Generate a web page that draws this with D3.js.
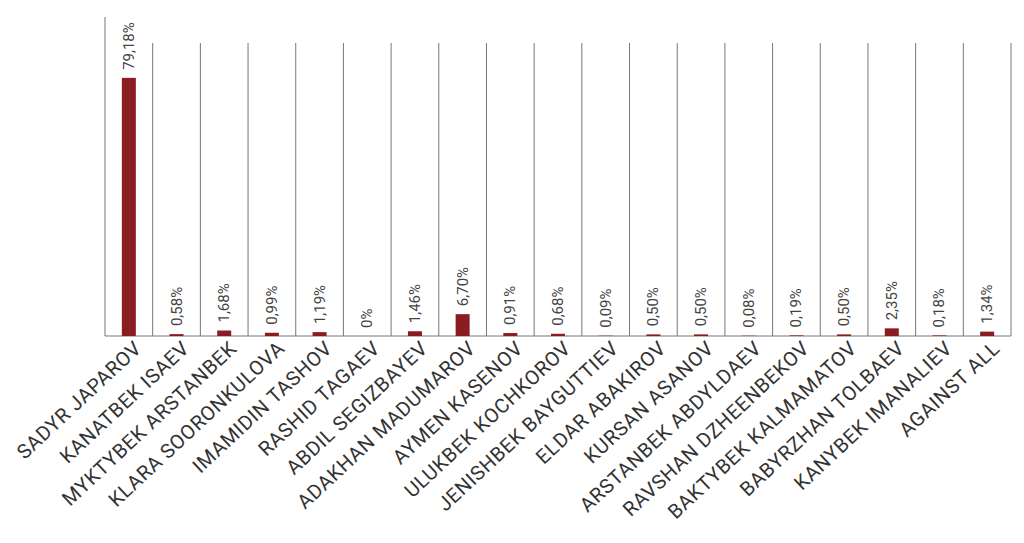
<!DOCTYPE html>
<html><head><meta charset="utf-8">
<script src="https://cdn.jsdelivr.net/npm/d3@7"></script>
<style>body{margin:0;background:#fff}</style></head>
<body><svg id="c" width="1024" height="543"></svg>
<script>
const candidates = ["SADYR JAPAROV","KANATBEK ISAEV","MYKTYBEK ARSTANBEK","KLARA SOORONKULOVA","IMAMIDIN TASHOV","RASHID TAGAEV","ABDIL SEGIZBAYEV","ADAKHAN MADUMAROV","AYMEN KASENOV","ULUKBEK  KOCHKOROV","JENISHBEK  BAYGUTTIEV","ELDAR ABAKIROV","KURSAN ASANOV","ARSTANBEK ABDYLDAEV","RAVSHAN DZHEENBEKOV","BAKTYBEK KALMAMATOV","BABYRZHAN TOLBAEV","KANYBEK IMANALIEV","AGAINST ALL"];
const shares = [79.18,0.58,1.68,0.99,1.19,0,1.46,6.70,0.91,0.68,0.09,0.50,0.50,0.08,0.19,0.50,2.35,0.18,1.34];

const svg = d3.select("#c");
const x = d3.scaleBand().domain(candidates).range([105, 1011]);
const y = d3.scaleLinear().domain([0, 100]).range([336, 10]);
const fmt = v => (v === 0 ? "0" : d3.format(".2f")(v).replace(".", ",")) + "%";

// column separators
svg.selectAll("line.sep").data(candidates).join("line")
  .attr("x1", d => x(d) + x.bandwidth()).attr("x2", d => x(d) + x.bandwidth())
  .attr("y1", 43).attr("y2", 336).attr("stroke", "#777").attr("stroke-width", 1);
svg.append("line").attr("x1", 105).attr("x2", 105).attr("y1", 17).attr("y2", 336).attr("stroke", "#777");
svg.append("line").attr("x1", 105).attr("x2", 1011).attr("y1", 336).attr("y2", 336).attr("stroke", "#777");

const bw = 14;
svg.selectAll("rect").data(shares).join("rect")
  .attr("x", (d, i) => x(candidates[i]) + x.bandwidth() / 2 - bw / 2)
  .attr("width", bw)
  .attr("y", d => y(d)).attr("height", d => 336 - y(d))
  .attr("fill", "#8b1c22");

svg.selectAll("text.val").data(shares).join("text")
  .attr("transform", (d, i) => `translate(${x(candidates[i]) + x.bandwidth() / 2 + 5},${y(d) - 8}) rotate(-90)`)
  .attr("font-family", "Roboto, sans-serif").attr("font-size", 15).attr("fill", "#444")
  .text(fmt);

svg.selectAll("text.cat").data(candidates).join("text")
  .attr("transform", d => `translate(${x(d) + x.bandwidth() / 2 + 14},${350}) rotate(-43)`)
  .attr("text-anchor", "end")
  .attr("font-family", "Roboto, sans-serif").attr("font-size", 20).attr("letter-spacing", 0.6).attr("fill", "#333")
  .text(d => d);
</script></body></html>
